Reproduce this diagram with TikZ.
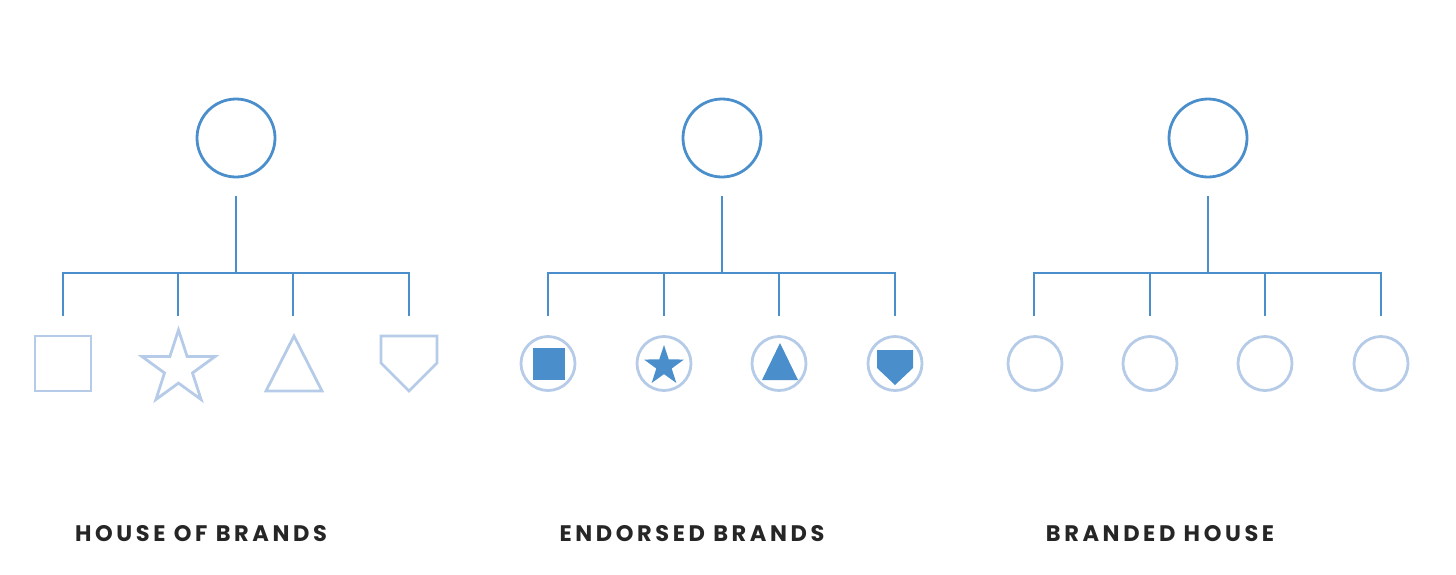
\documentclass[tikz,border=0pt]{standalone}
\usepackage{fontspec}
\setmainfont{Poppins}
\definecolor{dkblue}{HTML}{4A8FCB}
\definecolor{ltblue}{HTML}{B5CBE8}
\definecolor{txt}{HTML}{262626}
\begin{document}
\begin{tikzpicture}[x=1pt,y=-1pt,
  tree/.style={draw=dkblue,line width=2.8pt},
  parent/.style={circle,draw=dkblue,line width=2.8pt,minimum size=78pt,inner sep=0pt},
  child/.style={circle,draw=ltblue,line width=2.8pt,minimum size=54pt,inner sep=0pt},
  outl/.style={draw=ltblue,line width=2.8pt,line join=miter},
  solid/.style={fill=dkblue},
  label/.style={text=txt,font=\fontsize{22.5}{27}\selectfont\bfseries\addfontfeatures{LetterSpace=16},inner sep=0pt}]
\useasboundingbox (0,0) rectangle (1456,574);
% ---------- trees ----------
\foreach \g/\cx/\a/\b/\c/\d in {1/236/63/178/293/409, 2/722/548/664/779/895, 3/1208/1034/1150/1265/1381}{
  \node[parent] (p\g) at (\cx,138) {};
  \coordinate (s\g) at (\cx,196);
  \coordinate (j\g) at (\cx,273);
  \coordinate (h\g a) at (\a,273);
  \coordinate (h\g b) at (\b,273);
  \coordinate (h\g c) at (\c,273);
  \coordinate (h\g d) at (\d,273);
  \coordinate (e\g a) at (\a,316);
  \coordinate (e\g b) at (\b,316);
  \coordinate (e\g c) at (\c,316);
  \coordinate (e\g d) at (\d,316);
  \draw[tree] (s\g) -- (j\g);
  \draw[tree,line cap=rect] (h\g a) -- (h\g d);
  \draw[tree] (h\g a) -- (e\g a);
  \draw[tree] (h\g b) -- (e\g b);
  \draw[tree] (h\g c) -- (e\g c);
  \draw[tree] (h\g d) -- (e\g d);
}
% ---------- house of brands: outlined shapes ----------
\draw[outl] (35,336) rectangle (91,391);
\draw[outl,shift={(178.5,368.4)}] (270:38.4) -- (306:14.7) -- (342:38.4) -- (18:14.7) -- (54:38.4) -- (90:14.7) -- (126:38.4) -- (162:14.7) -- (198:38.4) -- (234:14.7) -- cycle;
\draw[outl] (294,336) -- (322,391) -- (266,391) -- cycle;
\draw[outl] (381,336) -- (437,336) -- (437,363) -- (409,391) -- (381,363) -- cycle;
% ---------- endorsed brands ----------
\foreach \x/\n in {548/a,664/b,779/c,895/d}{
  \node[child] (c2\n) at (\x,363.5) {};
}
\fill[solid] (533,348) rectangle (565,380);
\fill[solid,shift={(664,366)}] (270:21) -- (306:8.1) -- (342:21) -- (18:8.1) -- (54:21) -- (90:8.1) -- (126:21) -- (162:8.1) -- (198:21) -- (234:8.1) -- cycle;
\fill[solid] (780,343) -- (798,380) -- (762,380) -- cycle;
\fill[solid] (877,350) -- (913,350) -- (913,368) -- (895,385) -- (877,368) -- cycle;
% ---------- branded house ----------
\foreach \x/\n in {1035/a,1150/b,1265/c,1381/d}{
  \node[child] (c3\n) at (\x,363.5) {};
}
% ---------- labels ----------
\node[label] (l1) at (201,534) {HOUSE OF BRANDS};
\node[label] (l2) at (692,534) {ENDORSED BRANDS};
\node[label] (l3) at (1160,534) {BRANDED HOUSE};
\end{tikzpicture}
\end{document}
